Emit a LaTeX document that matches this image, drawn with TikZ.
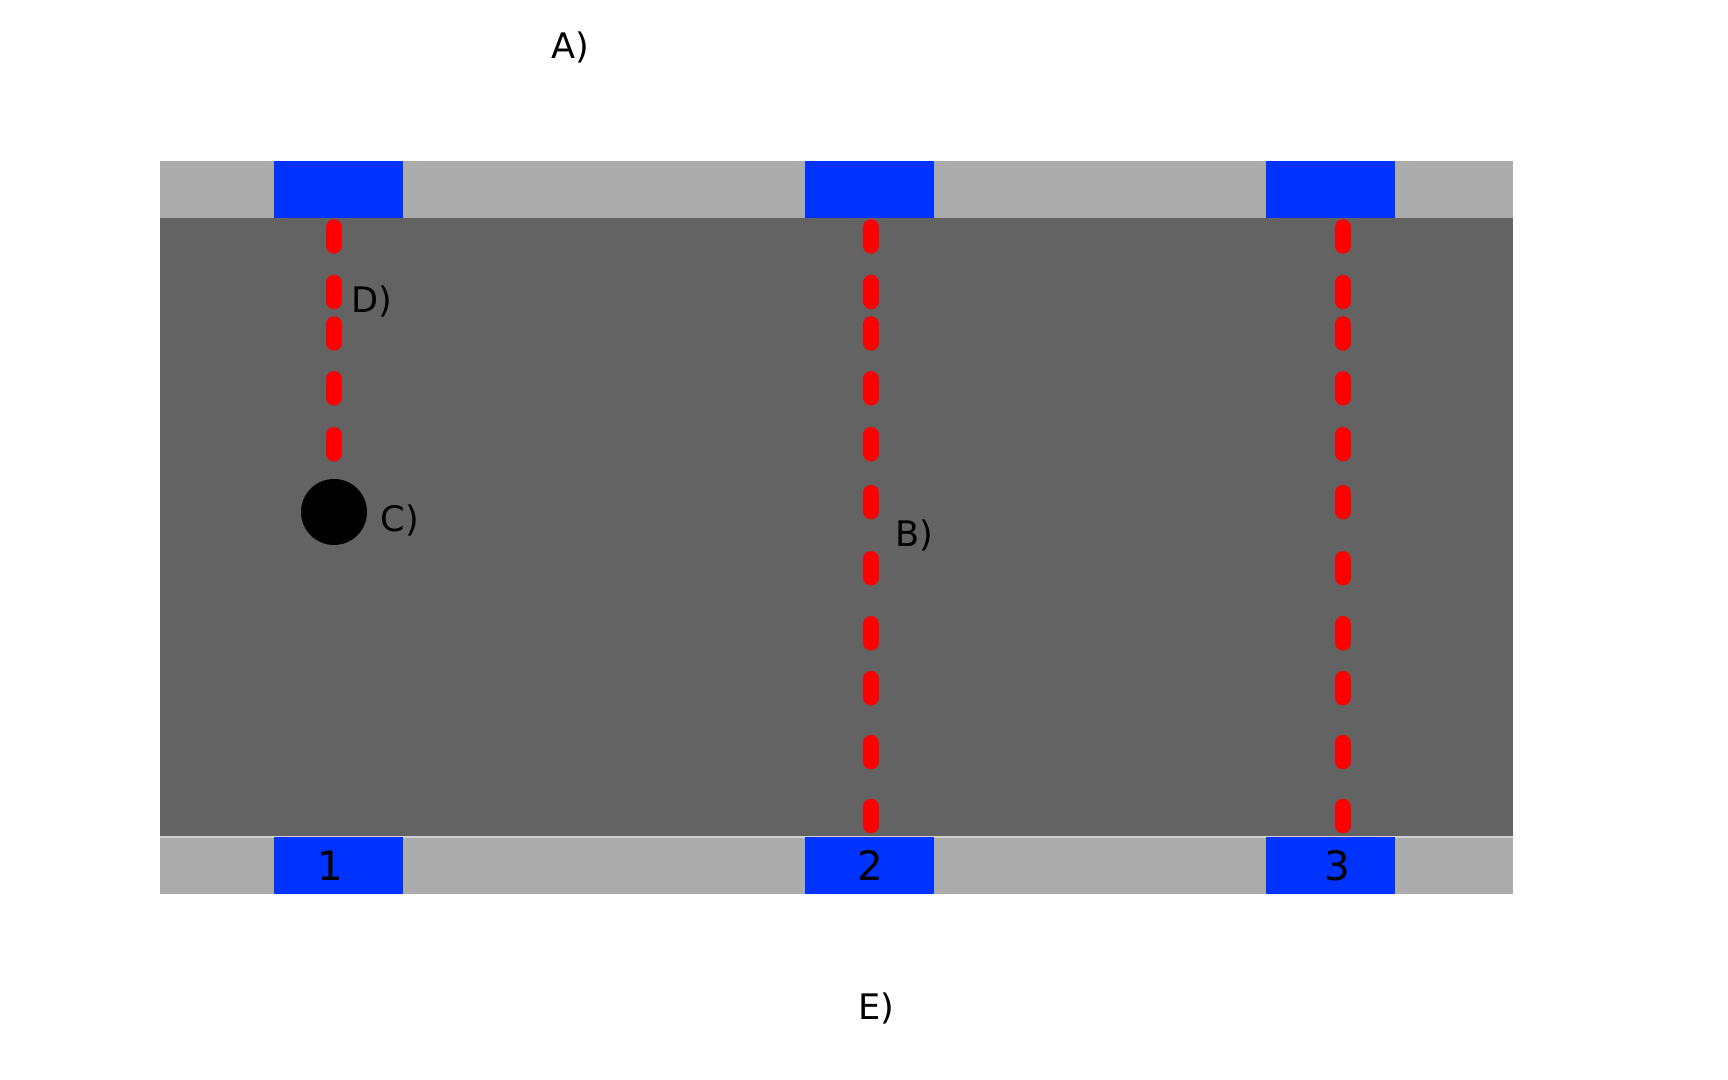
\documentclass[tikz,border=0pt]{standalone}
\usepackage{fontspec}
\setmainfont{DejaVu Sans}
\usepackage{xcolor}
\usepackage{tikz}
\usetikzlibrary{positioning}

\definecolor{faixa}{HTML}{ABABAB}
\definecolor{pista}{HTML}{636363}
\definecolor{bloco}{HTML}{0033FF}

\begin{document}
\begin{tikzpicture}[
        blocoazul/.style={rectangle, fill=bloco, minimum width=1.29cm, minimum height=0.57cm, inner sep=0pt},
        rotulo/.style={font=\fontsize{10}{12}\selectfont, inner sep=0pt},
        numero/.style={font=\fontsize{11.5}{13}\selectfont, inner sep=0pt},
        tracejado/.style={red, line width=4.4pt, line cap=round,
            dash pattern=on 5.4pt off 10.4pt on 5.4pt off 6.4pt on 5.4pt off 10.2pt on 5.4pt off 10.5pt on 5.4pt off 11.1pt on 5.4pt off 13.4pt on 5.4pt off 13.1pt on 5.4pt off 10.2pt on 5.4pt off 12.8pt on 5.4pt off 12.8pt on 5.4pt off 20pt}
    ]
        \useasboundingbox (0,0) rectangle (17.28,10.8);

        % Faixas
        \fill[faixa] (1.60,8.62) rectangle (15.13,9.19);
        \fill[pista] (1.60,2.43) rectangle (15.13,8.62);
        \fill[faixa] (1.60,1.86) rectangle (15.13,2.43);
        \draw[gray!35, line width=0.4pt] (1.60,2.43) -- (15.13,2.43);

        % Blocos azuis
        \node[blocoazul] (t1) at (3.385,8.905) {};
        \node[blocoazul] (t2) at (8.69,8.905) {};
        \node[blocoazul] (t3) at (13.305,8.905) {};
        \node[blocoazul] (b1) at (3.385,2.145) {};
        \node[blocoazul] (b2) at (8.69,2.145) {};
        \node[blocoazul] (b3) at (13.305,2.145) {};
        \node[numero] (n1) at ([xshift=-0.08cm]b1.center) {1};
        \node[numero] (n2) at ([xshift=0.01cm]b2.center) {2};
        \node[numero] (n3) at ([xshift=0.07cm]b3.center) {3};

        % Ponto
        \node[circle, fill=black, minimum size=0.66cm, inner sep=0pt] (dot) at (3.34,5.68) {};

        % Linhas tracejadas
        \coordinate (s1) at (3.34,8.53);
        \coordinate (s2) at (8.71,8.53);
        \coordinate (e2) at (8.71,2.53);
        \coordinate (s3) at (13.43,8.53);
        \coordinate (e3) at (13.43,2.53);
        \draw[tracejado] (s1) -- (dot.north);
        \draw[tracejado] (s2) -- (e2);
        \draw[tracejado] (s3) -- (e3);

        % Rotulos
        \node[rotulo] (la) at (5.70,10.32) {A)};
        \node[rotulo] (lb) at (9.14,5.45) {B)};
        \node[rotulo] (lc) at (4.00,5.60) {C)};
        \node[rotulo] (ld) at (3.72,7.79) {D)};
        \node[rotulo] (le) at (8.76,0.72) {E)};
    \end{tikzpicture}
\end{document}
